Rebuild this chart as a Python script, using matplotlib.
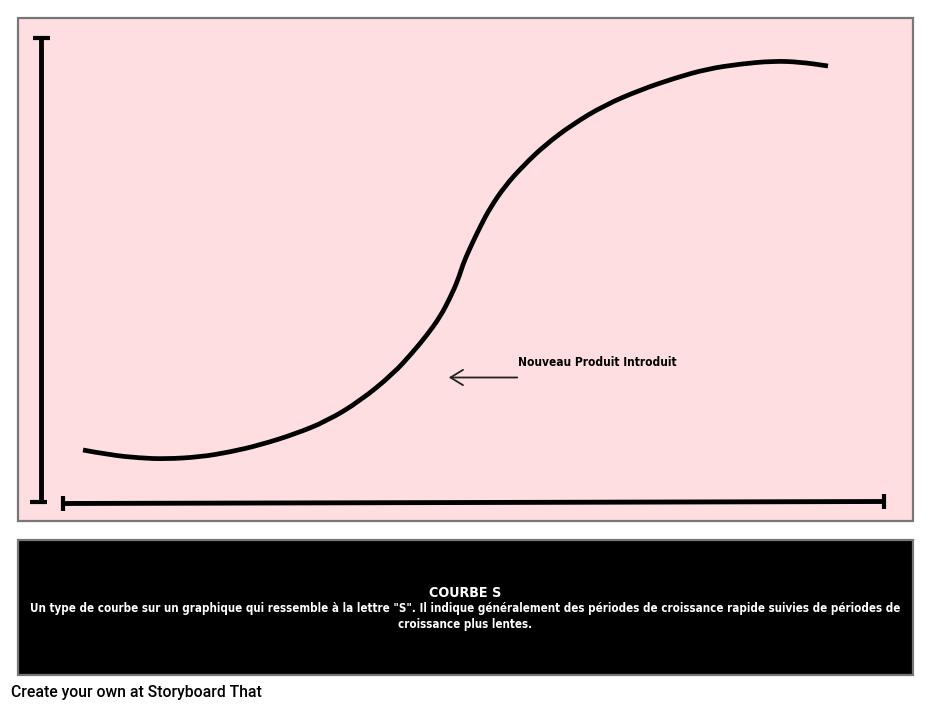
import matplotlib
matplotlib.use('Agg')
import matplotlib.pyplot as plt
from matplotlib.patches import Rectangle, PathPatch
from matplotlib.path import Path

# courbe S, points (pixels)
courbe_x = [83, 110, 140, 165, 200, 230, 260, 295, 327, 360, 393, 413, 427, 440, 450, 458,
            463, 470, 480, 490, 505, 523, 545, 573, 605, 640, 675, 707, 740, 773, 800, 828]
courbe_y = [450, 455, 458, 459, 457, 452, 445, 434, 421, 401, 374, 352, 335, 317, 298, 280,
            264, 248, 227, 208, 186, 166, 145, 124, 105, 90, 78, 69, 64, 61, 62, 66]

annotation = "Nouveau Produit Introduit"
titre = "COURBE S"
description = ("Un type de courbe sur un graphique qui ressemble à la lettre \"S\". Il indique généralement "
               "des périodes de croissance rapide suivies de périodes de\ncroissance plus lentes.")
pied = "Create your own at Storyboard That"

fig = plt.figure(figsize=(9.33, 7.13), dpi=100)
ax = fig.add_axes([0, 0, 1, 1])
ax.set_xlim(0, 933)
ax.set_ylim(713, 0)
ax.axis('off')

# cadres
ax.add_patch(Rectangle((18, 18), 895, 503, facecolor='#fedee0', edgecolor='#777777', lw=1.6))
ax.add_patch(Rectangle((18, 540), 895, 135, facecolor='black', edgecolor='#777777', lw=1.6))

# axes dessines a la main
ax.plot([41, 41], [37, 503], color='black', lw=3.5, solid_capstyle='butt')
ax.plot([33, 50], [37.5, 37.5], color='black', lw=3, solid_capstyle='butt')
ax.plot([30, 47], [502, 502], color='black', lw=3, solid_capstyle='butt')
ax.plot([62, 884], [503.5, 501.5], color='black', lw=3.5, solid_capstyle='butt')
ax.plot([62.5, 62.5], [496, 511], color='black', lw=3, solid_capstyle='butt')
ax.plot([883.5, 883.5], [494, 509], color='black', lw=3, solid_capstyle='butt')

# courbe lissee : points lus = points de controle quadratiques
pts = list(zip(courbe_x, courbe_y))
verts = [pts[0]]
codes = [Path.MOVETO]
for i in range(1, len(pts) - 1):
    verts += [pts[i], ((pts[i][0] + pts[i + 1][0]) / 2, (pts[i][1] + pts[i + 1][1]) / 2)]
    codes += [Path.CURVE3, Path.CURVE3]
verts.append(pts[-1])
codes.append(Path.LINETO)
ax.add_patch(PathPatch(Path(verts, codes), facecolor='none', edgecolor='black', lw=3.4,
                       capstyle='butt', joinstyle='round'))

# fleche
ax.annotate('', xy=(446, 377.5), xytext=(520, 377.5),
            arrowprops=dict(arrowstyle='->,head_length=0.9,head_width=0.55', color='#222222', lw=1.3))
ax.text(518, 363, annotation, family='DejaVu Sans', fontstretch='condensed', fontweight='bold',
        fontsize=8.6, ha='left', va='center', color='black')

# texte du bas
ax.text(465.5, 593, titre, family='DejaVu Sans', fontstretch='condensed', fontweight='bold',
        fontsize=10.3, ha='center', va='center', color='white')
ax.text(465.5, 616.5, description, family='DejaVu Sans', fontstretch='condensed', fontweight='bold',
        fontsize=8.3, ha='center', va='center', color='white', linespacing=1.3)

ax.text(11, 693, pied, family=['Roboto', 'DejaVu Sans'], fontweight='medium', fontsize=11.3,
        ha='left', va='center', color='black')

fig.savefig('out.png', dpi=100)
